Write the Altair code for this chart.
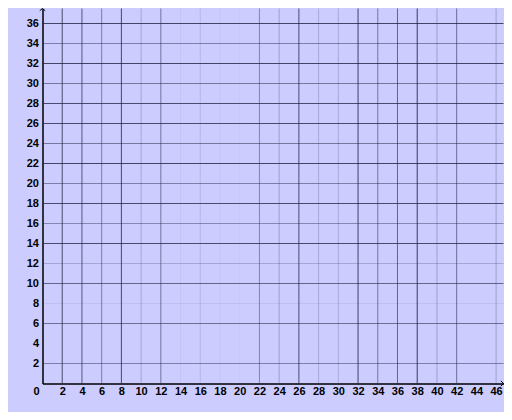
import altair as alt
import pandas as pd

# grid positions and their darkness (0 = invisible, 1 = darkest)
x_ticks = [2, 4, 6, 8, 10, 12, 14, 16, 18, 20, 22, 24, 26, 28, 30, 32, 34, 36, 38, 40, 42, 44, 46]
x_levels = [0.75, 0.68, 0.45, 0.78, 0.22, 0.5, 0.05, 0.13, 0.03, 0.03, 0.42, 0.25, 0.75, 0.2, 0.2,
            0.8, 0.5, 0.6, 0.85, 0.25, 0.55, 0.0, 0.25]
y_ticks = [2, 4, 6, 8, 10, 12, 14, 16, 18, 20, 22, 24, 26, 28, 30, 32, 34, 36]
y_levels = [0.45, 0.0, 0.55, 0.07, 0.6, 0.22, 0.75, 0.4, 0.75, 0.45, 0.8, 0.5, 0.75, 0.75, 0.5,
            0.8, 0.45, 0.8]

x_max = 46.75
y_max = 37.5

BG = "#ccccff"
LINE = "#202040"
FONT = "Liberation Sans"

xs = alt.Scale(domain=[0, x_max], nice=False, zero=False)
ys = alt.Scale(domain=[0, y_max], nice=False, zero=False)

vdf = pd.DataFrame({"x": x_ticks, "level": x_levels})
hdf = pd.DataFrame({"y": y_ticks, "level": y_levels})

xaxis = alt.Axis(values=x_ticks, labelPadding=2, title=None)
yaxis = alt.Axis(values=y_ticks, labelPadding=4, title=None)

vrules = alt.Chart(vdf).mark_rule(color=LINE, strokeWidth=1).encode(
    x=alt.X("x:Q", scale=xs, axis=xaxis),
    opacity=alt.Opacity("level:Q", scale=None),
)
hrules = alt.Chart(hdf).mark_rule(color=LINE, strokeWidth=1).encode(
    y=alt.Y("y:Q", scale=ys, axis=yaxis),
    opacity=alt.Opacity("level:Q", scale=None),
)

zero_df = pd.DataFrame({"x": [0], "y": [0], "t": ["0"]})
zero = alt.Chart(zero_df).mark_text(font=FONT, fontSize=11, fontWeight="bold", color="black",
                                    dx=-6, dy=8, baseline="middle").encode(
    x=alt.X("x:Q", scale=xs, axis=xaxis), y=alt.Y("y:Q", scale=ys, axis=yaxis), text="t:N")

arr_r = alt.Chart(pd.DataFrame({"x": [x_max], "y": [0]})).mark_point(
    shape="M-1,-1L0,0L-1,1", size=30, filled=False, color="black", strokeWidth=1, opacity=1).encode(
    x=alt.X("x:Q", scale=xs, axis=xaxis), y=alt.Y("y:Q", scale=ys, axis=yaxis))
arr_u = alt.Chart(pd.DataFrame({"x": [0], "y": [y_max]})).mark_point(
    shape="M-1,0.8L0,0L1,0.8", size=30, filled=False, color="black", strokeWidth=1, opacity=1).encode(
    x=alt.X("x:Q", scale=xs, axis=xaxis), y=alt.Y("y:Q", scale=ys, axis=yaxis))

chart = alt.layer(vrules, hrules, zero, arr_r, arr_u).properties(
    width=461, height=375,
    autosize=alt.AutoSizeParams(type="none"),
    padding={"left": 34.5, "top": 0.5, "right": 0, "bottom": 28},
    background=BG,
).configure_view(stroke=None, fill=BG).configure_axis(
    ticks=False, grid=False, labelFont=FONT, labelFontSize=11, labelFontWeight="bold",
    labelColor="black", labelOverlap=False, labelFlush=False, labelBound=False,
    domainColor="black", domainWidth=1.5, zindex=1,
)

chart.save("out.html", embed_options={"renderer": "svg", "actions": False})
